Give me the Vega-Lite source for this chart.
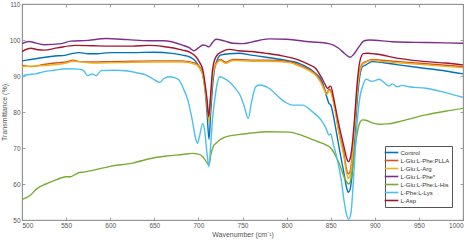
{
  "$schema": "https://vega.github.io/schema/vega-lite/v6.json",
  "width": 441,
  "height": 216,
  "autosize": {"type": "none"},
  "padding": {"left": 22, "top": 4, "right": 11, "bottom": 22},
  "background": "white",
  "config": {
    "view": {"stroke": "#8a8a8a", "strokeWidth": 0.8},
    "font": "Liberation Sans",
    "axis": {
      "grid": false,
      "domainColor": "#8a8a8a",
      "domainWidth": 0.8,
      "tickColor": "#8a8a8a",
      "tickWidth": 0.8,
      "tickSize": -3,
      "labelFontSize": 6.5,
      "labelColor": "#555555",
      "titleFontSize": 7,
      "titleFontWeight": "normal",
      "titleColor": "#555555"
    }
  },
  "data": {"values": [
    {"s":"Control","x":500,"y":94.2},{"s":"Control","x":510,"y":94.6},{"s":"Control","x":520,"y":95.0},{"s":"Control","x":535,"y":95.5},{"s":"Control","x":550,"y":95.8},{"s":"Control","x":558,"y":96.3},{"s":"Control","x":565,"y":96.5},{"s":"Control","x":575,"y":96.2},{"s":"Control","x":585,"y":96.2},{"s":"Control","x":600,"y":96.5},{"s":"Control","x":625,"y":96.5},{"s":"Control","x":650,"y":96.6},{"s":"Control","x":670,"y":96.3},{"s":"Control","x":682,"y":95.8},{"s":"Control","x":690,"y":95.3},{"s":"Control","x":697,"y":94.0},{"s":"Control","x":702,"y":92.0},{"s":"Control","x":705,"y":90.3},{"s":"Control","x":708,"y":85.0},{"s":"Control","x":710,"y":79.0},{"s":"Control","x":712,"y":72.4},{"s":"Control","x":714,"y":80.0},{"s":"Control","x":716,"y":87.0},{"s":"Control","x":718,"y":91.5},{"s":"Control","x":720,"y":93.5},{"s":"Control","x":725,"y":95.8},{"s":"Control","x":735,"y":96.2},{"s":"Control","x":746,"y":96.3},{"s":"Control","x":760,"y":95.8},{"s":"Control","x":777,"y":95.2},{"s":"Control","x":795,"y":94.5},{"s":"Control","x":814,"y":93.5},{"s":"Control","x":825,"y":92.2},{"s":"Control","x":833,"y":90.7},{"s":"Control","x":838,"y":89.4},{"s":"Control","x":843,"y":86.5},{"s":"Control","x":846,"y":83.8},{"s":"Control","x":848,"y":82.4},{"s":"Control","x":850,"y":82.0},{"s":"Control","x":853,"y":79.0},{"s":"Control","x":856,"y":75.0},{"s":"Control","x":860,"y":69.5},{"s":"Control","x":865,"y":63.0},{"s":"Control","x":868,"y":59.0},{"s":"Control","x":870,"y":57.7},{"s":"Control","x":872,"y":58.5},{"s":"Control","x":874,"y":62.0},{"s":"Control","x":877,"y":72.0},{"s":"Control","x":880,"y":83.0},{"s":"Control","x":883,"y":90.0},{"s":"Control","x":886,"y":92.6},{"s":"Control","x":890,"y":93.1},{"s":"Control","x":897,"y":94.0},{"s":"Control","x":910,"y":93.7},{"s":"Control","x":927,"y":93.1},{"s":"Control","x":958,"y":92.1},{"s":"Control","x":980,"y":91.4},{"s":"Control","x":1000,"y":90.6},

    {"s":"L-Glu:L-Phe:PLLA","x":500,"y":92.9},{"s":"L-Glu:L-Phe:PLLA","x":510,"y":92.6},{"s":"L-Glu:L-Phe:PLLA","x":525,"y":93.2},{"s":"L-Glu:L-Phe:PLLA","x":540,"y":93.7},{"s":"L-Glu:L-Phe:PLLA","x":550,"y":93.9},{"s":"L-Glu:L-Phe:PLLA","x":558,"y":94.4},{"s":"L-Glu:L-Phe:PLLA","x":565,"y":94.0},{"s":"L-Glu:L-Phe:PLLA","x":580,"y":93.9},{"s":"L-Glu:L-Phe:PLLA","x":600,"y":94.0},{"s":"L-Glu:L-Phe:PLLA","x":625,"y":94.1},{"s":"L-Glu:L-Phe:PLLA","x":650,"y":94.2},{"s":"L-Glu:L-Phe:PLLA","x":682,"y":94.2},{"s":"L-Glu:L-Phe:PLLA","x":697,"y":93.5},{"s":"L-Glu:L-Phe:PLLA","x":702,"y":92.3},{"s":"L-Glu:L-Phe:PLLA","x":705,"y":90.7},{"s":"L-Glu:L-Phe:PLLA","x":708,"y":86.0},{"s":"L-Glu:L-Phe:PLLA","x":710,"y":82.0},{"s":"L-Glu:L-Phe:PLLA","x":712,"y":77.8},{"s":"L-Glu:L-Phe:PLLA","x":714,"y":84.0},{"s":"L-Glu:L-Phe:PLLA","x":716,"y":89.8},{"s":"L-Glu:L-Phe:PLLA","x":718,"y":92.5},{"s":"L-Glu:L-Phe:PLLA","x":720,"y":93.5},{"s":"L-Glu:L-Phe:PLLA","x":725,"y":94.6},{"s":"L-Glu:L-Phe:PLLA","x":731,"y":93.8},{"s":"L-Glu:L-Phe:PLLA","x":739,"y":94.6},{"s":"L-Glu:L-Phe:PLLA","x":760,"y":94.4},{"s":"L-Glu:L-Phe:PLLA","x":777,"y":94.4},{"s":"L-Glu:L-Phe:PLLA","x":803,"y":94.0},{"s":"L-Glu:L-Phe:PLLA","x":814,"y":93.1},{"s":"L-Glu:L-Phe:PLLA","x":826,"y":91.7},{"s":"L-Glu:L-Phe:PLLA","x":833,"y":90.5},{"s":"L-Glu:L-Phe:PLLA","x":839,"y":88.4},{"s":"L-Glu:L-Phe:PLLA","x":846,"y":85.2},{"s":"L-Glu:L-Phe:PLLA","x":848,"y":86.4},{"s":"L-Glu:L-Phe:PLLA","x":850,"y":86.0},{"s":"L-Glu:L-Phe:PLLA","x":852,"y":84.3},{"s":"L-Glu:L-Phe:PLLA","x":856,"y":79.5},{"s":"L-Glu:L-Phe:PLLA","x":859,"y":75.0},{"s":"L-Glu:L-Phe:PLLA","x":865,"y":68.5},{"s":"L-Glu:L-Phe:PLLA","x":868,"y":64.0},{"s":"L-Glu:L-Phe:PLLA","x":870,"y":62.8},{"s":"L-Glu:L-Phe:PLLA","x":872,"y":63.5},{"s":"L-Glu:L-Phe:PLLA","x":874,"y":67.0},{"s":"L-Glu:L-Phe:PLLA","x":877,"y":76.0},{"s":"L-Glu:L-Phe:PLLA","x":880,"y":86.0},{"s":"L-Glu:L-Phe:PLLA","x":883,"y":91.5},{"s":"L-Glu:L-Phe:PLLA","x":886,"y":93.5},{"s":"L-Glu:L-Phe:PLLA","x":890,"y":94.0},{"s":"L-Glu:L-Phe:PLLA","x":897,"y":94.6},{"s":"L-Glu:L-Phe:PLLA","x":910,"y":94.3},{"s":"L-Glu:L-Phe:PLLA","x":927,"y":94.0},{"s":"L-Glu:L-Phe:PLLA","x":958,"y":93.4},{"s":"L-Glu:L-Phe:PLLA","x":1000,"y":92.6},

    {"s":"L-Glu:L-Arg","x":500,"y":92.6},{"s":"L-Glu:L-Arg","x":525,"y":92.9},{"s":"L-Glu:L-Arg","x":550,"y":93.6},{"s":"L-Glu:L-Arg","x":558,"y":94.1},{"s":"L-Glu:L-Arg","x":580,"y":93.6},{"s":"L-Glu:L-Arg","x":625,"y":93.8},{"s":"L-Glu:L-Arg","x":650,"y":93.9},{"s":"L-Glu:L-Arg","x":682,"y":93.9},{"s":"L-Glu:L-Arg","x":697,"y":93.2},{"s":"L-Glu:L-Arg","x":702,"y":92.0},{"s":"L-Glu:L-Arg","x":705,"y":90.3},{"s":"L-Glu:L-Arg","x":708,"y":85.5},{"s":"L-Glu:L-Arg","x":710,"y":81.5},{"s":"L-Glu:L-Arg","x":712,"y":77.2},{"s":"L-Glu:L-Arg","x":714,"y":83.5},{"s":"L-Glu:L-Arg","x":716,"y":89.3},{"s":"L-Glu:L-Arg","x":718,"y":92.2},{"s":"L-Glu:L-Arg","x":720,"y":93.2},{"s":"L-Glu:L-Arg","x":725,"y":94.3},{"s":"L-Glu:L-Arg","x":731,"y":93.5},{"s":"L-Glu:L-Arg","x":739,"y":94.3},{"s":"L-Glu:L-Arg","x":760,"y":94.1},{"s":"L-Glu:L-Arg","x":777,"y":94.1},{"s":"L-Glu:L-Arg","x":803,"y":93.7},{"s":"L-Glu:L-Arg","x":814,"y":92.8},{"s":"L-Glu:L-Arg","x":826,"y":91.4},{"s":"L-Glu:L-Arg","x":833,"y":90.2},{"s":"L-Glu:L-Arg","x":839,"y":88.1},{"s":"L-Glu:L-Arg","x":846,"y":84.9},{"s":"L-Glu:L-Arg","x":848,"y":86.0},{"s":"L-Glu:L-Arg","x":850,"y":85.6},{"s":"L-Glu:L-Arg","x":852,"y":83.9},{"s":"L-Glu:L-Arg","x":856,"y":79.0},{"s":"L-Glu:L-Arg","x":859,"y":74.5},{"s":"L-Glu:L-Arg","x":865,"y":67.5},{"s":"L-Glu:L-Arg","x":868,"y":63.0},{"s":"L-Glu:L-Arg","x":870,"y":61.5},{"s":"L-Glu:L-Arg","x":872,"y":62.5},{"s":"L-Glu:L-Arg","x":874,"y":66.0},{"s":"L-Glu:L-Arg","x":877,"y":75.0},{"s":"L-Glu:L-Arg","x":880,"y":85.5},{"s":"L-Glu:L-Arg","x":883,"y":91.2},{"s":"L-Glu:L-Arg","x":886,"y":93.2},{"s":"L-Glu:L-Arg","x":890,"y":93.8},{"s":"L-Glu:L-Arg","x":897,"y":94.4},{"s":"L-Glu:L-Arg","x":910,"y":94.0},{"s":"L-Glu:L-Arg","x":927,"y":93.7},{"s":"L-Glu:L-Arg","x":958,"y":93.1},{"s":"L-Glu:L-Arg","x":1000,"y":92.3},

    {"s":"L-Glu:L-Phe*","x":500,"y":99.0},{"s":"L-Glu:L-Phe*","x":508,"y":99.6},{"s":"L-Glu:L-Phe*","x":515,"y":99.2},{"s":"L-Glu:L-Phe*","x":525,"y":98.7},{"s":"L-Glu:L-Phe*","x":545,"y":99.0},{"s":"L-Glu:L-Phe*","x":555,"y":99.7},{"s":"L-Glu:L-Phe*","x":575,"y":99.9},{"s":"L-Glu:L-Phe*","x":595,"y":100.4},{"s":"L-Glu:L-Phe*","x":620,"y":100.1},{"s":"L-Glu:L-Phe*","x":644,"y":99.8},{"s":"L-Glu:L-Phe*","x":660,"y":99.8},{"s":"L-Glu:L-Phe*","x":682,"y":98.6},{"s":"L-Glu:L-Phe*","x":690,"y":97.8},{"s":"L-Glu:L-Phe*","x":695,"y":97.0},{"s":"L-Glu:L-Phe*","x":700,"y":97.8},{"s":"L-Glu:L-Phe*","x":705,"y":98.6},{"s":"L-Glu:L-Phe*","x":708,"y":98.5},{"s":"L-Glu:L-Phe*","x":712,"y":98.1},{"s":"L-Glu:L-Phe*","x":716,"y":99.3},{"s":"L-Glu:L-Phe*","x":720,"y":100.2},{"s":"L-Glu:L-Phe*","x":730,"y":99.7},{"s":"L-Glu:L-Phe*","x":739,"y":99.1},{"s":"L-Glu:L-Phe*","x":750,"y":99.0},{"s":"L-Glu:L-Phe*","x":760,"y":99.4},{"s":"L-Glu:L-Phe*","x":780,"y":100.3},{"s":"L-Glu:L-Phe*","x":800,"y":100.2},{"s":"L-Glu:L-Phe*","x":826,"y":99.5},{"s":"L-Glu:L-Phe*","x":848,"y":99.0},{"s":"L-Glu:L-Phe*","x":859,"y":97.7},{"s":"L-Glu:L-Phe*","x":866,"y":96.2},{"s":"L-Glu:L-Phe*","x":872,"y":95.2},{"s":"L-Glu:L-Phe*","x":876,"y":96.0},{"s":"L-Glu:L-Phe*","x":882,"y":98.1},{"s":"L-Glu:L-Phe*","x":888,"y":99.8},{"s":"L-Glu:L-Phe*","x":894,"y":100.0},{"s":"L-Glu:L-Phe*","x":920,"y":99.5},{"s":"L-Glu:L-Phe*","x":960,"y":99.3},{"s":"L-Glu:L-Phe*","x":1000,"y":99.1},

    {"s":"L-Glu:L-Phe:L-His","x":500,"y":55.7},{"s":"L-Glu:L-Phe:L-His","x":505,"y":56.2},{"s":"L-Glu:L-Phe:L-His","x":510,"y":57.0},{"s":"L-Glu:L-Phe:L-His","x":515,"y":58.3},{"s":"L-Glu:L-Phe:L-His","x":520,"y":59.2},{"s":"L-Glu:L-Phe:L-His","x":525,"y":59.8},{"s":"L-Glu:L-Phe:L-His","x":530,"y":60.3},{"s":"L-Glu:L-Phe:L-His","x":540,"y":61.3},{"s":"L-Glu:L-Phe:L-His","x":550,"y":62.0},{"s":"L-Glu:L-Phe:L-His","x":555,"y":62.0},{"s":"L-Glu:L-Phe:L-His","x":560,"y":62.6},{"s":"L-Glu:L-Phe:L-His","x":565,"y":63.2},{"s":"L-Glu:L-Phe:L-His","x":570,"y":63.3},{"s":"L-Glu:L-Phe:L-His","x":580,"y":63.8},{"s":"L-Glu:L-Phe:L-His","x":600,"y":64.9},{"s":"L-Glu:L-Phe:L-His","x":625,"y":65.8},{"s":"L-Glu:L-Phe:L-His","x":650,"y":67.3},{"s":"L-Glu:L-Phe:L-His","x":665,"y":67.8},{"s":"L-Glu:L-Phe:L-His","x":682,"y":68.2},{"s":"L-Glu:L-Phe:L-His","x":693,"y":68.5},{"s":"L-Glu:L-Phe:L-His","x":700,"y":68.3},{"s":"L-Glu:L-Phe:L-His","x":705,"y":67.6},{"s":"L-Glu:L-Phe:L-His","x":710,"y":65.8},{"s":"L-Glu:L-Phe:L-His","x":712,"y":65.2},{"s":"L-Glu:L-Phe:L-His","x":714,"y":68.0},{"s":"L-Glu:L-Phe:L-His","x":717,"y":70.5},{"s":"L-Glu:L-Phe:L-His","x":720,"y":71.3},{"s":"L-Glu:L-Phe:L-His","x":725,"y":72.4},{"s":"L-Glu:L-Phe:L-His","x":731,"y":73.1},{"s":"L-Glu:L-Phe:L-His","x":745,"y":73.7},{"s":"L-Glu:L-Phe:L-His","x":758,"y":74.1},{"s":"L-Glu:L-Phe:L-His","x":780,"y":74.5},{"s":"L-Glu:L-Phe:L-His","x":803,"y":74.4},{"s":"L-Glu:L-Phe:L-His","x":815,"y":73.7},{"s":"L-Glu:L-Phe:L-His","x":826,"y":72.7},{"s":"L-Glu:L-Phe:L-His","x":835,"y":71.8},{"s":"L-Glu:L-Phe:L-His","x":845,"y":70.8},{"s":"L-Glu:L-Phe:L-His","x":850,"y":70.0},{"s":"L-Glu:L-Phe:L-His","x":856,"y":67.6},{"s":"L-Glu:L-Phe:L-His","x":860,"y":65.5},{"s":"L-Glu:L-Phe:L-His","x":865,"y":62.0},{"s":"L-Glu:L-Phe:L-His","x":868,"y":60.6},{"s":"L-Glu:L-Phe:L-His","x":870,"y":60.0},{"s":"L-Glu:L-Phe:L-His","x":872,"y":60.5},{"s":"L-Glu:L-Phe:L-His","x":874,"y":63.0},{"s":"L-Glu:L-Phe:L-His","x":877,"y":69.0},{"s":"L-Glu:L-Phe:L-His","x":880,"y":74.0},{"s":"L-Glu:L-Phe:L-His","x":883,"y":77.0},{"s":"L-Glu:L-Phe:L-His","x":886,"y":77.8},{"s":"L-Glu:L-Phe:L-His","x":890,"y":77.7},{"s":"L-Glu:L-Phe:L-His","x":897,"y":77.0},{"s":"L-Glu:L-Phe:L-His","x":905,"y":76.6},{"s":"L-Glu:L-Phe:L-His","x":915,"y":76.7},{"s":"L-Glu:L-Phe:L-His","x":927,"y":77.3},{"s":"L-Glu:L-Phe:L-His","x":958,"y":79.2},{"s":"L-Glu:L-Phe:L-His","x":980,"y":80.2},{"s":"L-Glu:L-Phe:L-His","x":1000,"y":81.0},

    {"s":"L-Phe:L-Lys","x":500,"y":89.5},{"s":"L-Phe:L-Lys","x":503,"y":90.2},{"s":"L-Phe:L-Lys","x":508,"y":90.4},{"s":"L-Phe:L-Lys","x":515,"y":90.6},{"s":"L-Phe:L-Lys","x":525,"y":91.2},{"s":"L-Phe:L-Lys","x":537,"y":91.6},{"s":"L-Phe:L-Lys","x":550,"y":92.0},{"s":"L-Phe:L-Lys","x":565,"y":91.9},{"s":"L-Phe:L-Lys","x":570,"y":91.5},{"s":"L-Phe:L-Lys","x":574,"y":90.1},{"s":"L-Phe:L-Lys","x":577,"y":90.3},{"s":"L-Phe:L-Lys","x":580,"y":90.6},{"s":"L-Phe:L-Lys","x":584,"y":90.1},{"s":"L-Phe:L-Lys","x":590,"y":91.5},{"s":"L-Phe:L-Lys","x":605,"y":91.6},{"s":"L-Phe:L-Lys","x":620,"y":91.4},{"s":"L-Phe:L-Lys","x":630,"y":90.9},{"s":"L-Phe:L-Lys","x":640,"y":90.3},{"s":"L-Phe:L-Lys","x":648,"y":89.3},{"s":"L-Phe:L-Lys","x":656,"y":88.2},{"s":"L-Phe:L-Lys","x":661,"y":89.3},{"s":"L-Phe:L-Lys","x":667,"y":89.8},{"s":"L-Phe:L-Lys","x":672,"y":89.6},{"s":"L-Phe:L-Lys","x":678,"y":88.9},{"s":"L-Phe:L-Lys","x":683,"y":86.5},{"s":"L-Phe:L-Lys","x":688,"y":83.3},{"s":"L-Phe:L-Lys","x":693,"y":77.8},{"s":"L-Phe:L-Lys","x":697,"y":72.5},{"s":"L-Phe:L-Lys","x":699,"y":71.3},{"s":"L-Phe:L-Lys","x":701,"y":73.0},{"s":"L-Phe:L-Lys","x":705,"y":76.8},{"s":"L-Phe:L-Lys","x":707,"y":75.0},{"s":"L-Phe:L-Lys","x":710,"y":68.0},{"s":"L-Phe:L-Lys","x":712,"y":64.8},{"s":"L-Phe:L-Lys","x":714,"y":71.0},{"s":"L-Phe:L-Lys","x":716,"y":78.0},{"s":"L-Phe:L-Lys","x":718,"y":82.4},{"s":"L-Phe:L-Lys","x":721,"y":87.5},{"s":"L-Phe:L-Lys","x":724,"y":89.8},{"s":"L-Phe:L-Lys","x":728,"y":89.5},{"s":"L-Phe:L-Lys","x":735,"y":88.4},{"s":"L-Phe:L-Lys","x":742,"y":86.5},{"s":"L-Phe:L-Lys","x":748,"y":84.3},{"s":"L-Phe:L-Lys","x":752,"y":81.5},{"s":"L-Phe:L-Lys","x":756.5,"y":78.2},{"s":"L-Phe:L-Lys","x":760,"y":82.5},{"s":"L-Phe:L-Lys","x":765,"y":87.0},{"s":"L-Phe:L-Lys","x":769,"y":87.5},{"s":"L-Phe:L-Lys","x":780,"y":86.6},{"s":"L-Phe:L-Lys","x":795,"y":83.3},{"s":"L-Phe:L-Lys","x":800,"y":82.5},{"s":"L-Phe:L-Lys","x":807,"y":81.9},{"s":"L-Phe:L-Lys","x":818,"y":81.9},{"s":"L-Phe:L-Lys","x":829,"y":80.1},{"s":"L-Phe:L-Lys","x":839,"y":77.8},{"s":"L-Phe:L-Lys","x":845,"y":75.3},{"s":"L-Phe:L-Lys","x":848,"y":73.6},{"s":"L-Phe:L-Lys","x":850,"y":74.0},{"s":"L-Phe:L-Lys","x":853,"y":71.0},{"s":"L-Phe:L-Lys","x":857.6,"y":66.7},{"s":"L-Phe:L-Lys","x":862,"y":61.0},{"s":"L-Phe:L-Lys","x":865,"y":55.6},{"s":"L-Phe:L-Lys","x":868,"y":51.5},{"s":"L-Phe:L-Lys","x":870.5,"y":50.2},{"s":"L-Phe:L-Lys","x":873,"y":52.0},{"s":"L-Phe:L-Lys","x":876,"y":62.0},{"s":"L-Phe:L-Lys","x":879,"y":74.0},{"s":"L-Phe:L-Lys","x":883,"y":84.0},{"s":"L-Phe:L-Lys","x":886,"y":87.0},{"s":"L-Phe:L-Lys","x":890,"y":89.1},{"s":"L-Phe:L-Lys","x":897,"y":88.5},{"s":"L-Phe:L-Lys","x":905,"y":89.1},{"s":"L-Phe:L-Lys","x":910,"y":88.3},{"s":"L-Phe:L-Lys","x":916,"y":87.2},{"s":"L-Phe:L-Lys","x":920,"y":87.8},{"s":"L-Phe:L-Lys","x":925,"y":87.0},{"s":"L-Phe:L-Lys","x":931,"y":87.4},{"s":"L-Phe:L-Lys","x":939,"y":87.0},{"s":"L-Phe:L-Lys","x":958,"y":86.6},{"s":"L-Phe:L-Lys","x":980,"y":85.4},{"s":"L-Phe:L-Lys","x":1000,"y":84.1},

    {"s":"L-Asp","x":500,"y":96.8},{"s":"L-Asp","x":510,"y":97.7},{"s":"L-Asp","x":518,"y":97.3},{"s":"L-Asp","x":525,"y":97.2},{"s":"L-Asp","x":540,"y":97.8},{"s":"L-Asp","x":560,"y":98.5},{"s":"L-Asp","x":580,"y":98.4},{"s":"L-Asp","x":600,"y":98.3},{"s":"L-Asp","x":625,"y":98.3},{"s":"L-Asp","x":644,"y":98.5},{"s":"L-Asp","x":660,"y":98.2},{"s":"L-Asp","x":682,"y":97.2},{"s":"L-Asp","x":690,"y":96.6},{"s":"L-Asp","x":697,"y":95.4},{"s":"L-Asp","x":702,"y":93.5},{"s":"L-Asp","x":705,"y":91.7},{"s":"L-Asp","x":708,"y":87.0},{"s":"L-Asp","x":710,"y":83.0},{"s":"L-Asp","x":711.6,"y":78.7},{"s":"L-Asp","x":714,"y":85.0},{"s":"L-Asp","x":716,"y":91.7},{"s":"L-Asp","x":720,"y":95.4},{"s":"L-Asp","x":727,"y":96.8},{"s":"L-Asp","x":735,"y":97.4},{"s":"L-Asp","x":746,"y":97.0},{"s":"L-Asp","x":760,"y":96.8},{"s":"L-Asp","x":777,"y":96.3},{"s":"L-Asp","x":795,"y":95.6},{"s":"L-Asp","x":814,"y":94.4},{"s":"L-Asp","x":825,"y":93.2},{"s":"L-Asp","x":833,"y":92.1},{"s":"L-Asp","x":839,"y":89.8},{"s":"L-Asp","x":844,"y":87.5},{"s":"L-Asp","x":846,"y":86.6},{"s":"L-Asp","x":850,"y":87.2},{"s":"L-Asp","x":853,"y":84.3},{"s":"L-Asp","x":856,"y":80.5},{"s":"L-Asp","x":859,"y":76.8},{"s":"L-Asp","x":865,"y":70.4},{"s":"L-Asp","x":868,"y":67.2},{"s":"L-Asp","x":870,"y":66.2},{"s":"L-Asp","x":872,"y":67.0},{"s":"L-Asp","x":874,"y":70.0},{"s":"L-Asp","x":877,"y":78.0},{"s":"L-Asp","x":880,"y":88.0},{"s":"L-Asp","x":883,"y":94.0},{"s":"L-Asp","x":887,"y":96.2},{"s":"L-Asp","x":892,"y":96.3},{"s":"L-Asp","x":901,"y":96.1},{"s":"L-Asp","x":927,"y":94.9},{"s":"L-Asp","x":958,"y":94.0},{"s":"L-Asp","x":980,"y":93.6},{"s":"L-Asp","x":1000,"y":93.1}
  ]},
  "layer": [
    {
      "mark": {"type": "line", "strokeWidth": 1.4, "clip": true, "interpolate": "monotone"},
      "encoding": {
        "x": {"field": "x", "type": "quantitative", "scale": {"domain": [500, 1000], "nice": false, "zero": false},
              "axis": {"title": "Wavenumber (cm⁻¹)", "format": "d", "values": [500,550,600,650,700,750,800,850,900,950,1000], "labelPadding": 5, "titlePadding": 2}},
        "y": {"field": "y", "type": "quantitative", "scale": {"domain": [50, 110], "nice": false, "zero": false},
              "axis": {"title": "Transmittance (%)", "format": "d", "values": [50,60,70,80,90,100,110], "labelPadding": 5, "titlePadding": 2}},
        "color": {"field": "s", "type": "nominal",
          "scale": {"domain": ["Control","L-Glu:L-Phe:PLLA","L-Glu:L-Arg","L-Glu:L-Phe*","L-Glu:L-Phe:L-His","L-Phe:L-Lys","L-Asp"],
                    "range": ["#0072BD","#D95319","#EDB120","#7E2F8E","#77AC30","#4DBEEE","#A2142F"]},
          "legend": {"title": null, "orient": "none", "legendX": 363, "legendY": 142,
                     "fillColor": "white", "strokeColor": "#555555", "padding": 2.5,
                     "symbolType": "M-2.5,0H2.5", "symbolStrokeWidth": 1.6, "symbolSize": 30,
                     "labelFontSize": 6, "labelColor": "#333333", "labelOffset": 5, "rowPadding": -1}}
      }
    },
    {
      "mark": {"type": "point", "opacity": 0},
      "encoding": {
        "x": {"field": "x", "type": "quantitative", "axis": {"orient": "top", "labels": false, "title": null, "values": [500,550,600,650,700,750,800,850,900,950,1000]}},
        "y": {"field": "y", "type": "quantitative", "axis": {"orient": "right", "labels": false, "title": null, "values": [50,60,70,80,90,100,110]}}
      }
    }
  ],
  "resolve": {"axis": {"x": "independent", "y": "independent"}}
}
